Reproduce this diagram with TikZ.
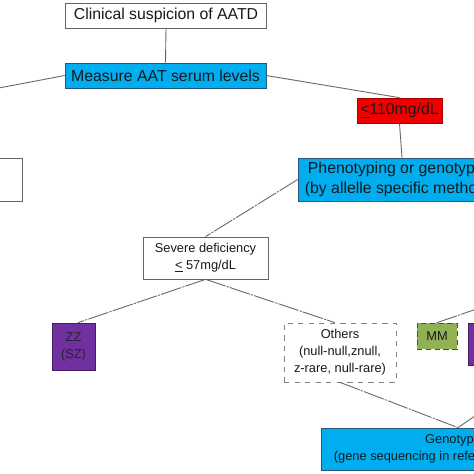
\documentclass[tikz,border=0pt]{standalone}
\usepackage{fontspec}
\setmainfont{Liberation Sans}
\usepackage{tikz}
\definecolor{aatblue}{RGB}{0,174,239}
\definecolor{aatred}{RGB}{240,0,0}
\definecolor{aatpurple}{RGB}{112,48,160}
\definecolor{aatgreen}{RGB}{144,178,84}
\definecolor{aatline}{RGB}{100,100,100}
\tikzset{
  box/.style={draw=aatline, fill=white, inner sep=0pt, align=center,
    text=black!90, font=\fontsize{9}{11}\selectfont},
  bluebox/.style={box, fill=aatblue, draw={rgb,255:red,40;green,85;blue,120}},
  smallbox/.style={box, font=\fontsize{7.3}{9.6}\selectfont},
  conn/.style={draw=aatline, line width=0.5pt},
  dconn/.style={conn, dash pattern=on 12pt off 0.7pt on 1.2pt off 0.7pt}
}
\begin{document}
\begin{tikzpicture}[x=0.02cm, y=-0.02cm]
  \useasboundingbox (0,0) rectangle (474,474);
  \clip (0,0) rectangle (474,474);

  % Boxes
  \node[box, minimum width=4.02cm, minimum height=0.5cm] (clin) at (166,15.5)
    {Clinical suspicion of AATD};
  \node[bluebox, minimum width=4.02cm, minimum height=0.5cm] (meas) at (165.5,75.5)
    {Measure AAT serum levels};
  \node[box, fill=aatred, draw=aatred!70!black, minimum width=1.7cm,
    minimum height=0.5cm] (low) at (399.5,110.5) {\underline{<}110mg/dL};
  \node[box, minimum width=2.48cm, minimum height=0.86cm] (leftbox) at (-40,179.5) {};
  \node[bluebox, minimum width=4.16cm, minimum height=0.86cm] (pheno) at (402,179.5)
    {Phenotyping or genotyping\\(by allelle specific methods)};
  \node[smallbox, minimum width=2.5cm, minimum height=0.84cm] (severe) at (205.5,258)
    {Severe deficiency\\\underline{<} 57mg/dL};
  \node[smallbox, fill=aatpurple, draw=aatpurple!60!black, text=black!85,
    minimum width=0.86cm, minimum height=0.94cm] (zz) at (73.5,346.5) {ZZ\\(SZ)};
  \node[smallbox, dashed, draw=gray, minimum width=2.24cm, minimum height=1.18cm]
    (others) at (340,352.5) {Others\\(null-null,znull,\\z-rare, null-rare)};
  \node[smallbox, fill=aatgreen, draw=black!70, densely dashed, minimum width=0.8cm,
    minimum height=0.52cm] (mm) at (437,336) {MM};
  \node[smallbox, fill=aatpurple, draw=aatpurple!60!black, minimum width=0.88cm,
    minimum height=0.84cm] (rpurple) at (490,344) {};
  \node[bluebox, font=\fontsize{7.3}{9.6}\selectfont, minimum width=5.48cm,
    minimum height=0.84cm] (geno) at (458,449)
    {Genotyping\\(gene sequencing in reference laboratories)};

  % Loose ends
  \coordinate (offleft) at (-30,93.5);
  \coordinate (offmm) at (520,294);
  \coordinate (offgeno) at (560,357);

  % Connectors
  \draw[conn] (clin.south) -- (meas.north);
  \draw[conn] (meas.west) -- (offleft);
  \draw[conn] (meas.east) -- (low.north);
  \draw[conn] (low.south) -- (pheno.north);
  \draw[dconn] (pheno.west) -- (severe.north);
  \draw[dconn] (severe.south) -- ([xshift=0.09cm]zz.north);
  \draw[dconn] (severe.south) -- ([xshift=-0.1cm]others.north);
  \draw[dconn] (others.south) -- (geno.north);
  \draw[dconn] (mm.north) -- (offmm);
  \draw[dconn] (offgeno) -- (geno.north);
\end{tikzpicture}
\end{document}
